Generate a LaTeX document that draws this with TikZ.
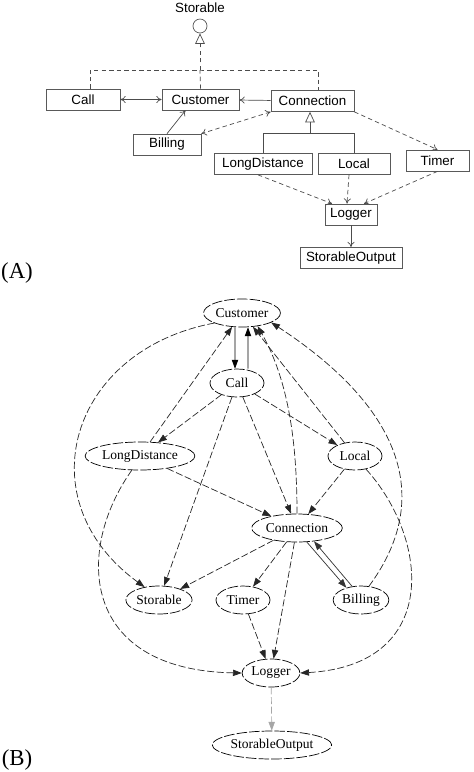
\documentclass[tikz,border=0pt]{standalone}
\usepackage{fontspec}
\setmainfont{Liberation Serif}
\newfontfamily\umlfont{Liberation Sans}
\usetikzlibrary{arrows.meta,shapes.geometric}

\begin{document}
\begin{tikzpicture}[x=0.02cm,y=-0.02cm,thin,>={Triangle[length=5pt,width=3.6pt]},
vee/.tip={To[length=3pt,width=4pt]},
cls/.style={rectangle,draw=black!65,font=\umlfont\fontsize{7.6}{9}\selectfont,minimum height=0.42cm,inner sep=1pt},
dep/.style={draw=black!70,dash pattern=on 2.5pt off 1.8pt},
uml/.style={-vee,draw=black!70},
gen/.style={-{Triangle[open,length=6pt,width=5.5pt]},draw=black!70},
obj/.style={ellipse,draw,dash pattern=on 6pt off 1.2pt,font=\fontsize{7.7}{9}\selectfont,minimum width=1.08cm,minimum height=0.56cm,inner sep=0.5pt},
call/.style={->,black!85,dash pattern=on 4pt off 1.5pt}]
\useasboundingbox (0,0) rectangle (474,772);
% (A)
\node (0) at (200,26) [circle,draw=black!65,minimum size=0.28cm,inner sep=0pt] {};
\node[font=\umlfont\fontsize{7.6}{9}\selectfont] (0t) at (200,8) {Storable};
\node[cls,minimum width=1.48cm] (1) at (83,99.5) {Call};
\node[cls,minimum width=1.54cm] (2) at (200.5,99.5) {Customer};
\node[cls,minimum width=1.66cm] (3) at (312.5,101) {Connection};
\node[cls,minimum width=1.36cm] (4) at (167,144.5) {Billing};
\node[cls,minimum width=1.96cm] (5) at (263,164) {LongDistance};
\node[cls,minimum width=1.44cm] (6) at (354,164) {Local};
\node[cls,minimum width=1.26cm] (7) at (437.5,160.5) {Timer};
\node[cls,minimum width=1.04cm] (8) at (351,214.5) {Logger};
\node[cls,minimum width=2.04cm] (9) at (351,258) {StorableOutput};
\node[font=\fontsize{13}{15}\selectfont] (la) at (17,273) {(A)};
\coordinate (j) at (200,70);
\coordinate (h) at (310,133);
\draw[dep] ([xshift=0.14cm]1.north) |- (j) -| ([xshift=0.12cm]3.north);
\draw[dep] (2.north) -- (j);
\draw[dep,gen] (j) -- (0.south);
\draw[uml,vee-vee] (1) -- (2);
\draw[uml] (3) -- (2);
\draw[uml] (4.north) -- ([xshift=-0.3cm]2.south);
\draw[dep,uml,vee-vee] (3.south west) -- (4.north east);
\draw[gen] (5.north) |- (h) -- (h |- 3.south);
\draw[draw=black!70] (6.north) |- (h);
\draw[dep,uml] (3.south east) -- (7.north);
\draw[dep,uml] ([xshift=-0.1cm]5.south) -- ([xshift=-0.38cm]8.north);
\draw[dep,uml] ([xshift=-0.1cm]6.south) -- ([xshift=-0.08cm]8.north);
\draw[dep,uml] (7.south) -- ([xshift=0.26cm]8.north);
\draw[uml] (8) -- (9);
% (B)
\node[obj] (b1) at (242,313) {Customer};
\node[obj] (b2) at (237,383) {Call};
\node[obj] (b3) at (140,456) {LongDistance};
\node[obj] (b4) at (355,456) {Local};
\node[obj] (b5) at (297,528) {Connection};
\node[obj] (b6) at (159,600) {Storable};
\node[obj] (b7) at (243,600) {Timer};
\node[obj] (b8) at (361,600) {Billing};
\node[obj] (b9) at (271,673) {Logger};
\node[obj] (b10) at (272,745) {StorableOutput};
\node[font=\fontsize{13}{15}\selectfont] (lb) at (17,760) {(B)};
\draw[->] ([xshift=-0.14cm]b1.south) -- ([xshift=-0.04cm]b2.north);
\draw[->] ([xshift=0.22cm]b2.north) -- ([xshift=0.12cm]b1.south);
\path[call]
(b2) edge (b3)
(b2) edge (b4)
(b2) edge (b5)
(b2) edge (b6)
(b3) edge (b1)
(b3) edge (b5)
(b4) edge (b1)
(b4) edge (b5)
(b5) edge (b6)
(b5) edge (b7)
(b5) edge (b9)
(b7) edge (b9);
\draw[call] (b1.200) .. controls (70,350) and (25,500) .. (b6.138);
\draw[call] (b3.240) .. controls (75,550) and (80,670) .. (b9.west);
\draw[call] (b4.-50) .. controls (430,540) and (440,665) .. (b9.east);
\draw[call] (b8.60) .. controls (440,490) and (390,400) .. (b1.-18);
\draw[call] (b5.north) .. controls (297,440) and (288,380) .. (b1.-40);
\draw[->,black!80] (b5.-55) -- (b8.140);
\draw[->,black!80] (b8.123) -- (b5.-38);
\draw[call,black!35] (b9) -- (b10);
\end{tikzpicture}
\end{document}
